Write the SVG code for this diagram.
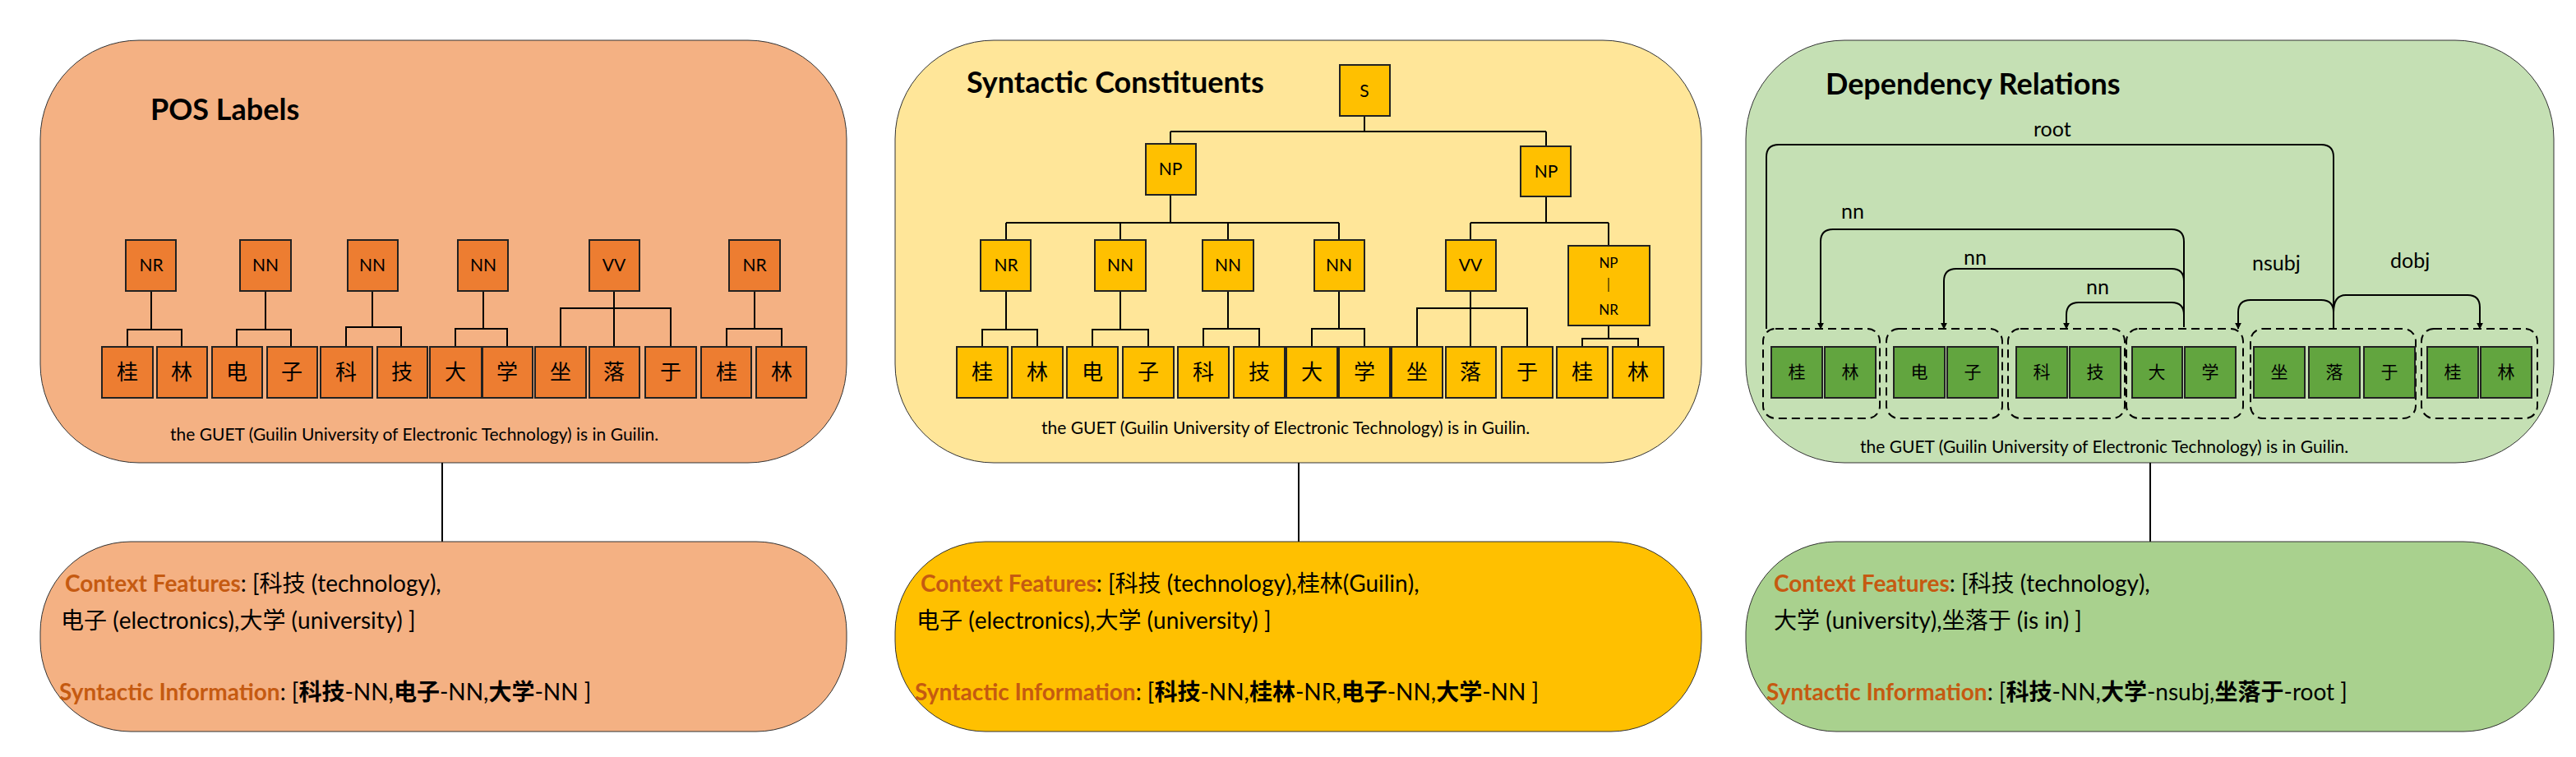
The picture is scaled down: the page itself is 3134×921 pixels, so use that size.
<svg xmlns="http://www.w3.org/2000/svg" width="3134" height="921" viewBox="0 0 3134 921">
<defs>
<marker id="ah" viewBox="0 0 10 10" refX="9" refY="5" markerWidth="8" markerHeight="8" orient="auto" markerUnits="userSpaceOnUse"><path d="M0,0 L10,5 L0,10 z" fill="#000"/></marker>
</defs>
<style>
text{font-family:Lato,"Noto Sans CJK SC",sans-serif;fill:#000}
.t{font-size:36px;font-weight:bold}
.lab{font-size:21px;text-anchor:middle}
.ch{font-size:26px;text-anchor:middle}
.ch3{font-size:21px;text-anchor:middle}
.sent{font-size:21px}
.ft{font-size:28px}
.or{fill:#C55A11;font-weight:bold}
.b{font-weight:bold}
.ln{stroke:#000;stroke-width:2;fill:none}
.o{fill:#ED7D31;stroke:#222;stroke-width:2}
.y{fill:#FFC000;stroke:#222;stroke-width:2}
.g{fill:#62A53F;stroke:#222;stroke-width:2}
.dash{fill:none;stroke:#000;stroke-width:2;stroke-dasharray:10,6}
</style>
<!-- panels -->
<g id="panel1"><rect x="49" y="49" width="981" height="514" rx="120" fill="#F4B183" stroke="#333" stroke-width="1"/><text class="t" x="183" y="146">POS Labels</text></g>
<g id="panel2"><rect x="1089" y="49" width="981" height="514" rx="120" fill="#FFE699" stroke="#333" stroke-width="1"/><text class="t" x="1176" y="113">Syntactic Constituents</text></g>
<g id="panel3"><rect x="2124" y="49" width="983" height="514" rx="120" fill="#C5E0B4" stroke="#333" stroke-width="1"/><text class="t" x="2221" y="115">Dependency Relations</text></g>

<g id="connectors">
<!-- panel1 -->
<path class="ln" d="M538,563V659 M1580,563V659 M2616,563V659"/>
<path class="ln" d="M184,354V401 M155,422V401H221V422 M323,354V401 M288,422V401H354V422 M453,354V398 M421,422V398H488V422 M588,354V400 M554,422V400H617V400V422 M747,354V375 M682,422V375H816V422 M747,375V422 M918,354V400 M884,422V400H951V422"/>
<!-- panel2 -->
<path class="ln" d="M1660,141V160 M1424,160H1881 M1424,160V175 M1881,160V178 M1424,237V271 M1224,271H1629 M1224,271V292 M1363,271V292 M1494,271V292 M1629,271V292 M1881,239V271 M1789,271H1957 M1789,271V292 M1957,271V299"/>
<path class="ln" d="M1224,354V401 M1195,422V401H1262V422 M1363,354V401 M1329,422V401H1397V422 M1494,354V400 M1464,422V400H1532V422 M1629,354V400 M1596,422V400H1660V422 M1789,354V375 M1724,422V375H1858V422 M1789,375V422 M1957,396V412 M1925,422V412H1993V422"/>
<!-- panel3 dependency arcs -->
<path class="ln" d="M2839,400V191Q2839,176 2824,176H2164Q2149,176 2149,191V400"/>
<path class="ln" marker-end="url(#ah)" d="M2657,398V294Q2657,279 2642,279H2230Q2215,279 2215,294V400"/>
<path class="ln" marker-end="url(#ah)" d="M2657,398V342Q2657,327 2642,327H2380Q2365,327 2365,342V400"/>
<path class="ln" marker-end="url(#ah)" d="M2657,398V383Q2657,368 2642,368H2529Q2514,368 2514,383V400"/>
<path class="ln" marker-end="url(#ah)" d="M2839,380Q2839,365 2824,365H2738Q2723,365 2723,380V400"/>
<path class="ln" marker-end="url(#ah)" d="M2839,380Q2839,359 2854,359H3002Q3017,359 3017,374V400"/>
</g>

<!-- panel1 nodes -->
<g id="p1-tags">
<g id="p1-NR1"><rect class="o" x="153" y="292" width="61" height="62"/><text class="lab" x="184" y="330">NR</text></g>
<g id="p1-NN1"><rect class="o" x="292" y="292" width="62" height="62"/><text class="lab" x="323" y="330">NN</text></g>
<g id="p1-NN2"><rect class="o" x="423" y="292" width="61" height="62"/><text class="lab" x="453" y="330">NN</text></g>
<g id="p1-NN3"><rect class="o" x="557" y="292" width="61" height="62"/><text class="lab" x="588" y="330">NN</text></g>
<g id="p1-VV"><rect class="o" x="717" y="292" width="61" height="62"/><text class="lab" x="747" y="330">VV</text></g>
<g id="p1-NR2"><rect class="o" x="887" y="292" width="62" height="62"/><text class="lab" x="918" y="330">NR</text></g>
</g>
<g id="p1-chars">
<g><rect class="o" x="124" y="422" width="62" height="62"/><text class="ch" x="155" y="462">桂</text></g>
<g><rect class="o" x="191" y="422" width="61" height="62"/><text class="ch" x="221" y="462">林</text></g>
<g><rect class="o" x="258" y="422" width="61" height="62"/><text class="ch" x="288" y="462">电</text></g>
<g><rect class="o" x="325" y="422" width="61" height="62"/><text class="ch" x="355" y="462">子</text></g>
<g><rect class="o" x="390" y="422" width="63" height="62"/><text class="ch" x="421" y="462">科</text></g>
<g><rect class="o" x="459" y="422" width="61" height="62"/><text class="ch" x="489" y="462">技</text></g>
<g><rect class="o" x="523" y="422" width="63" height="62"/><text class="ch" x="554" y="462">大</text></g>
<g><rect class="o" x="587" y="422" width="61" height="62"/><text class="ch" x="617" y="462">学</text></g>
<g><rect class="o" x="651" y="422" width="62" height="62"/><text class="ch" x="682" y="462">坐</text></g>
<g><rect class="o" x="717" y="422" width="61" height="62"/><text class="ch" x="747" y="462">落</text></g>
<g><rect class="o" x="785" y="422" width="62" height="62"/><text class="ch" x="816" y="462">于</text></g>
<g><rect class="o" x="853" y="422" width="61" height="62"/><text class="ch" x="884" y="462">桂</text></g>
<g><rect class="o" x="920" y="422" width="61" height="62"/><text class="ch" x="951" y="462">林</text></g>
</g>
<text class="sent" x="207" y="536">the GUET (Guilin University of Electronic Technology) is in Guilin.</text>

<!-- panel2 nodes -->
<g id="p2-tags">
<g id="p2-S"><rect class="y" x="1630" y="79" width="61" height="62"/><text class="lab" x="1660" y="118">S</text></g>
<g id="p2-NP1"><rect class="y" x="1394" y="175" width="61" height="62"/><text class="lab" x="1424" y="213">NP</text></g>
<g id="p2-NP2"><rect class="y" x="1850" y="178" width="61" height="61"/><text class="lab" x="1881" y="216">NP</text></g>
<g id="p2-NR"><rect class="y" x="1193" y="292" width="61" height="62"/><text class="lab" x="1224" y="330">NR</text></g>
<g id="p2-NN1"><rect class="y" x="1332" y="292" width="62" height="62"/><text class="lab" x="1363" y="330">NN</text></g>
<g id="p2-NN2"><rect class="y" x="1463" y="292" width="62" height="62"/><text class="lab" x="1494" y="330">NN</text></g>
<g id="p2-NN3"><rect class="y" x="1599" y="292" width="61" height="62"/><text class="lab" x="1629" y="330">NN</text></g>
<g id="p2-VV"><rect class="y" x="1759" y="292" width="61" height="62"/><text class="lab" x="1789" y="330">VV</text></g>
<g id="p2-NPNR"><rect class="y" x="1908" y="299" width="99" height="97"/><text class="lab" style="font-size:17px" x="1957" y="326">NP</text><line x1="1957" y1="338" x2="1957" y2="355" stroke="#000" stroke-width="1"/><text class="lab" style="font-size:17px" x="1957" y="383">NR</text></g>
</g>
<g id="p2-chars">
<g><rect class="y" x="1164" y="422" width="62" height="62"/><text class="ch" x="1195" y="462">桂</text></g>
<g><rect class="y" x="1231" y="422" width="62" height="62"/><text class="ch" x="1262" y="462">林</text></g>
<g><rect class="y" x="1298" y="422" width="62" height="62"/><text class="ch" x="1329" y="462">电</text></g>
<g><rect class="y" x="1366" y="422" width="62" height="62"/><text class="ch" x="1397" y="462">子</text></g>
<g><rect class="y" x="1433" y="422" width="62" height="62"/><text class="ch" x="1464" y="462">科</text></g>
<g><rect class="y" x="1501" y="422" width="62" height="62"/><text class="ch" x="1532" y="462">技</text></g>
<g><rect class="y" x="1565" y="422" width="62" height="62"/><text class="ch" x="1596" y="462">大</text></g>
<g><rect class="y" x="1629" y="422" width="62" height="62"/><text class="ch" x="1660" y="462">学</text></g>
<g><rect class="y" x="1693" y="422" width="62" height="62"/><text class="ch" x="1724" y="462">坐</text></g>
<g><rect class="y" x="1759" y="422" width="61" height="62"/><text class="ch" x="1789" y="462">落</text></g>
<g><rect class="y" x="1827" y="422" width="62" height="62"/><text class="ch" x="1858" y="462">于</text></g>
<g><rect class="y" x="1894" y="422" width="62" height="62"/><text class="ch" x="1925" y="462">桂</text></g>
<g><rect class="y" x="1962" y="422" width="62" height="62"/><text class="ch" x="1993" y="462">林</text></g>
</g>
<text class="sent" x="1267" y="528">the GUET (Guilin University of Electronic Technology) is in Guilin.</text>

<!-- panel3 nodes -->
<g id="p3-groups">
<rect class="dash" x="2145" y="400" width="142" height="109" rx="15"/>
<rect class="dash" x="2295" y="400" width="141" height="109" rx="15"/>
<rect class="dash" x="2443" y="400" width="142" height="109" rx="15"/>
<rect class="dash" x="2587" y="400" width="142" height="109" rx="15"/>
<rect class="dash" x="2738" y="400" width="201" height="109" rx="15"/>
<rect class="dash" x="2946" y="400" width="141" height="109" rx="15"/>
</g>
<g id="p3-chars">
<g><rect class="g" x="2155" y="422" width="62" height="62"/><text class="ch3" x="2186" y="460">桂</text></g>
<g><rect class="g" x="2220" y="422" width="62" height="62"/><text class="ch3" x="2251" y="460">林</text></g>
<g><rect class="g" x="2304" y="422" width="62" height="62"/><text class="ch3" x="2335" y="460">电</text></g>
<g><rect class="g" x="2369" y="422" width="62" height="62"/><text class="ch3" x="2400" y="460">子</text></g>
<g><rect class="g" x="2453" y="422" width="62" height="62"/><text class="ch3" x="2484" y="460">科</text></g>
<g><rect class="g" x="2518" y="422" width="62" height="62"/><text class="ch3" x="2549" y="460">技</text></g>
<g><rect class="g" x="2594" y="422" width="61" height="62"/><text class="ch3" x="2624" y="460">大</text></g>
<g><rect class="g" x="2658" y="422" width="62" height="62"/><text class="ch3" x="2689" y="460">学</text></g>
<g><rect class="g" x="2742" y="422" width="62" height="62"/><text class="ch3" x="2773" y="460">坐</text></g>
<g><rect class="g" x="2809" y="422" width="62" height="62"/><text class="ch3" x="2840" y="460">落</text></g>
<g><rect class="g" x="2876" y="422" width="62" height="62"/><text class="ch3" x="2907" y="460">于</text></g>
<g><rect class="g" x="2953" y="422" width="62" height="62"/><text class="ch3" x="2984" y="460">桂</text></g>
<g><rect class="g" x="3018" y="422" width="62" height="62"/><text class="ch3" x="3049" y="460">林</text></g>
</g>
<g id="p3-labels" style="font-size:25px">
<text x="2474" y="166" style="font-size:25px">root</text>
<text x="2240" y="266" style="font-size:25px">nn</text>
<text x="2389" y="322" style="font-size:25px">nn</text>
<text x="2538" y="358" style="font-size:25px">nn</text>
<text x="2740" y="329" style="font-size:25px">nsubj</text>
<text x="2908" y="326" style="font-size:25px">dobj</text>
</g>
<text class="sent" x="2263" y="551">the GUET (Guilin University of Electronic Technology) is in Guilin.</text>

<!-- lower boxes -->
<g id="feat1"><rect x="49" y="659" width="981" height="231" rx="110" fill="#F4B183" stroke="#333" stroke-width="1"/>
<text class="ft" x="79" y="720"><tspan class="or">Context Features</tspan>: [科技 (technology),</text>
<text class="ft" x="74" y="765">电子 (electronics),大学 (university) ]</text>
<text class="ft" x="72" y="852"><tspan class="or">Syntactic Information</tspan>: [<tspan class="b">科技</tspan>-NN,<tspan class="b">电子</tspan>-NN,<tspan class="b">大学</tspan>-NN ]</text></g>
<g id="feat2"><rect x="1089" y="659" width="981" height="231" rx="110" fill="#FFC000" stroke="#333" stroke-width="1"/>
<text class="ft" x="1120" y="720"><tspan class="or">Context Features</tspan>: [科技 (technology),桂林(Guilin),</text>
<text class="ft" x="1115" y="765">电子 (electronics),大学 (university) ]</text>
<text class="ft" x="1113" y="852"><tspan class="or">Syntactic Information</tspan>: [<tspan class="b">科技</tspan>-NN,<tspan class="b">桂林</tspan>-NR,<tspan class="b">电子</tspan>-NN,<tspan class="b">大学</tspan>-NN ]</text></g>
<g id="feat3"><rect x="2124" y="659" width="983" height="231" rx="110" fill="#A9D18E" stroke="#333" stroke-width="1"/>
<text class="ft" x="2158" y="720"><tspan class="or">Context Features</tspan>: [科技 (technology),</text>
<text class="ft" x="2158" y="765">大学 (university),坐落于 (is in) ]</text>
<text class="ft" x="2149" y="852"><tspan class="or">Syntactic Information</tspan>: [<tspan class="b">科技</tspan>-NN,<tspan class="b">大学</tspan>-nsubj,<tspan class="b">坐落于</tspan>-root ]</text></g>
</svg>
